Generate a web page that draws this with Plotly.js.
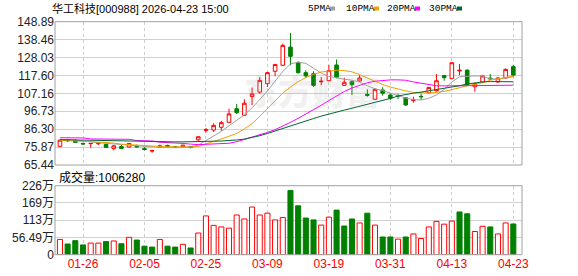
<!DOCTYPE html>
<html><head><meta charset="utf-8">
<script src="https://cdn.plot.ly/plotly-3.0.1.min.js"></script>
<style>html,body{margin:0;padding:0;background:#fff}#c{width:578px;height:276px}</style>
</head><body><div id="c"></div>
<script>
const dates = ['01-21','01-22','01-23','01-26','01-27','01-28','01-29','01-30','02-02','02-03','02-04','02-05','02-06','02-09','02-10','02-11','02-12','02-13','02-24','02-25','02-26','02-27','03-02','03-03','03-04','03-05','03-06','03-09','03-10','03-11','03-12','03-13','03-16','03-17','03-18','03-19','03-20','03-23','03-24','03-25','03-26','03-27','03-30','03-31','04-01','04-02','04-03','04-07','04-08','04-09','04-10','04-13','04-14','04-15','04-16','04-17','04-20','04-21','04-22','04-23'];
const open  = [76.3,80.2,79.8,78.0,77.9,77.8,77.4,75.0,76.2,75.9,76.5,75.0,73.6,75.8,76.8,76.2,75.8,76.2,80.1,85.6,85.8,87.4,90.3,98.2,94.4,105.3,107.9,112.8,120.0,123.5,134.1,125.0,119.2,118.6,113.9,114.5,123.7,111.8,113.9,114.4,106.5,103.7,109.1,106.2,105.9,104.6,103.0,105.4,107.5,108.7,117.6,115.7,120.2,120.7,111.0,113.8,116.0,113.8,116.1,122.7];
const high  = [80.3,80.6,80.4,78.3,78.3,78.5,77.8,77.0,77.4,78.3,77.3,75.8,74.3,77.3,77.3,76.6,77.2,76.5,82.0,87.0,89.7,91.1,98.2,101.0,103.7,110.5,116.7,119.6,124.4,136.1,142.3,125.8,120.6,120.0,116.7,123.6,126.9,116.3,114.9,117.8,109.5,110.1,110.7,107.2,107.0,104.8,105.2,107.0,111.0,118.4,117.8,125.2,124.2,121.0,113.4,117.6,118.4,116.7,121.7,123.7];
const low   = [76.1,78.8,78.5,77.4,75.5,77.1,75.3,74.1,74.9,75.6,75.5,73.9,72.6,75.5,75.8,75.3,75.6,75.2,79.6,84.3,84.6,85.4,90.0,95.1,94.0,100.4,106.9,110.9,117.1,123.1,123.5,118.6,116.1,110.9,111.8,114.3,115.9,111.6,106.2,113.9,105.2,103.5,105.8,103.3,103.9,99.8,101.7,103.3,107.2,108.1,114.5,115.5,117.8,111.4,108.1,113.4,115.0,113.3,115.7,116.9];
const close = [79.9,79.6,78.6,77.7,78.0,78.1,75.7,76.6,75.1,78.0,76.0,74.5,73.8,76.6,76.2,75.8,77.0,75.6,81.9,85.9,88.5,90.1,95.2,95.9,101.4,106.8,114.7,119.2,123.9,135.1,128.7,119.2,117.3,111.8,114.2,120.4,116.5,113.6,112.2,116.1,106.0,109.5,107.2,104.3,105.6,100.4,103.4,105.2,110.5,114.5,116.3,125.0,120.6,112.3,112.8,117.3,115.6,116.1,121.1,117.8];
const volume = [500000,350000,460000,320000,380000,380000,430000,450000,360000,570000,480000,280000,250000,500000,280000,250000,340000,220000,710000,1270000,960000,910000,870000,1300000,1170000,1560000,1300000,1360000,1140000,1220000,2100000,1600000,1200000,1140000,970000,1230000,1460000,940000,1170000,1040000,1360000,970000,580000,580000,510000,580000,680000,530000,910000,1090000,1000000,1100000,1400000,1340000,760000,930000,910000,680000,1040000,1006280];
const ma5  = [80.0,80.3,79.8,79.5,78.9,78.4,78.0,77.6,77.2,76.7,76.6,76.3,76.0,75.8,75.7,75.5,75.7,75.9,77.0,79.6,82.6,85.0,88.3,91.3,94.6,98.7,103.4,108.5,114.3,119.8,124.3,125.3,124.6,121.8,119.0,117.0,116.0,115.4,114.8,113.7,111.6,109.8,108.8,107.3,105.6,104.4,103.5,103.3,104.3,106.2,109.5,113.8,116.8,117.2,117.3,117.3,115.5,115.5,116.2,116.8];
const ma10 = [79.8,79.7,79.6,79.4,79.0,78.8,78.6,78.2,77.6,77.3,77.1,76.6,76.2,76.2,76.1,76.0,76.0,75.9,76.2,77.5,79.2,80.6,82.0,83.8,86.5,89.5,93.8,98.5,103.2,107.3,110.8,114.0,116.3,118.2,119.6,120.3,120.6,120.4,119.7,118.0,116.0,114.2,112.3,110.8,109.6,108.6,107.7,107.3,107.3,107.8,108.3,109.3,110.6,111.6,112.4,113.3,114.8,115.7,116.4,117.2];
const ma20 = [81.3,81.3,81.3,81.2,80.6,80.6,80.6,80.5,80.5,80.4,79.7,79.6,79.4,78.7,78.6,78.5,78.0,77.6,77.3,77.5,77.7,77.9,78.1,79.0,80.3,81.8,82.9,84.4,86.0,88.0,90.3,92.6,95.0,97.6,100.2,103.0,105.8,108.2,110.3,112.0,113.3,114.2,114.8,115.0,115.0,114.8,113.8,113.2,112.6,111.6,111.5,111.5,111.5,111.5,111.5,111.5,111.5,111.6,111.9,111.9];
const ma30 = [80.2,80.1,80.0,79.7,79.6,79.6,79.6,79.6,79.6,79.5,79.4,79.1,79.0,78.9,78.9,78.9,78.9,78.9,79.0,79.1,79.3,79.4,79.6,80.0,80.5,81.4,82.5,83.8,85.3,86.8,88.4,89.9,91.2,92.5,93.9,95.2,96.4,97.4,98.5,99.6,100.8,101.9,103.0,104.2,105.6,106.6,107.3,107.9,108.6,109.2,109.8,110.6,111.6,112.6,113.4,113.8,114.0,114.1,114.1,113.9];
const priceTicks = [65.44,75.87,86.30,96.73,107.16,117.60,128.03,138.46,148.89];
const priceTickText = ['65.44','75.87','86.30','96.73','107.16','117.60','128.03','138.46','148.89'];
const volTicks = [0,564900,1129800,1694700,2259600];
const volTickText = ['0','56.49万','113万','169万','226万'];
const xTickDates = ['01-26','02-05','02-25','03-09','03-19','03-31','04-13','04-23'];
const title = '华工科技[000988] 2026-04-23 15:00';
const volTitle = '成交量:1006280';
const maNames = ['5PMA','10PMA','20PMA','30PMA'];

const W=578,H=276;
const px=x=>x/W, py=y=>1-y/H;
const RED='#ff0000', GREEN='#008000';
const maColors=['#a0a0a0','#f0a000','#ff00ff','#006633'];

const up = close.map((c,i)=> i===0 ? c>=open[0] : c>=close[i-1]);

const traces=[
 {type:'candlestick',x:dates,open:open,high:high,low:low,close:close,xaxis:'x',yaxis:'y',
  increasing:{line:{color:RED,width:1},fillcolor:'#ffffff'},
  decreasing:{line:{color:GREEN,width:1},fillcolor:GREEN},
  whiskerwidth:0,hoverinfo:'skip',showlegend:false},
];
[ma5,ma10,ma20,ma30].forEach((m,i)=>traces.push({type:'scatter',mode:'lines',x:dates,y:m,xaxis:'x',yaxis:'y',
  line:{color:maColors[i],width:1},hoverinfo:'skip',showlegend:false}));
traces.push({type:'bar',x:dates,y:volume,xaxis:'x',yaxis:'y2',width:0.66,
  marker:{color:up.map(u=>u?'#ffffff':GREEN),line:{color:up.map(u=>u?RED:GREEN),width:1}},
  hoverinfo:'skip',showlegend:false});

const fam='Liberation Sans, Arial, Noto Sans CJK SC, sans-serif';
const annotations=[
 {text:title,xref:'paper',yref:'paper',x:px(50),y:py(8.5),xanchor:'left',yanchor:'middle',showarrow:false,
  font:{family:fam,size:11,color:'#000'}},
 {text:volTitle,xref:'paper',yref:'paper',x:px(57),y:py(177.5),xanchor:'left',yanchor:'middle',showarrow:false,
  font:{family:fam,size:12,color:'#000'}},
 {text:'东方财富',xref:'paper',yref:'paper',x:px(312),y:py(90),xanchor:'center',yanchor:'middle',showarrow:false,
  font:{family:'Noto Sans CJK SC',size:34,color:'rgba(160,160,160,0.17)',weight:900}},
];
const legX=[306,344,385,427], sqX=[330,374,415,457];
const shapes=[];
maNames.forEach((n,i)=>{
  annotations.push({text:n,xref:'paper',yref:'paper',x:px(legX[i]),y:py(8.5),xanchor:'left',yanchor:'middle',showarrow:false,
    font:{family:'Liberation Mono, DejaVu Sans Mono, monospace',size:9.5,color:'#000'}});
  shapes.push({type:'rect',xref:'paper',yref:'paper',x0:px(sqX[i]),x1:px(sqX[i]+5),y0:py(10.5),y1:py(6.5),
    line:{width:0},fillcolor:maColors[i]});
});
shapes.push({type:'rect',xref:'x domain',yref:'y domain',x0:0,x1:1,y0:0,y1:1,line:{color:'#a0a0a0',width:1}});
shapes.push({type:'rect',xref:'x domain',yref:'y2 domain',x0:0,x1:1,y0:0,y1:1,line:{color:'#a0a0a0',width:1}});

const layout={
 width:W,height:H,margin:{l:0,r:0,t:0,b:0},paper_bgcolor:'#fff',plot_bgcolor:'#fff',
 showlegend:false,boxgap:0.33,bargap:0,
 xaxis:{type:'category',domain:[px(55),px(522)],range:[-0.644,60.13],anchor:'y2',
   tickmode:'array',tickvals:xTickDates,ticktext:xTickDates,ticks:'',
   tickfont:{family:fam,size:12,color:RED},showgrid:true,gridcolor:'#cccccc',griddash:'3px,3px',gridwidth:1,
   rangeslider:{visible:false},showline:false,zeroline:false,fixedrange:true},
 yaxis:{domain:[py(165),py(21.67)],range:[65.44,148.89],anchor:'x',tickmode:'array',tickvals:priceTicks,ticktext:priceTickText,
   ticks:'',tickfont:{family:fam,size:12,color:'#222'},gridcolor:'#d0d0d0',gridwidth:1,zeroline:false,showline:false},
 yaxis2:{domain:[py(254.7),py(185.7)],range:[0,2259600],anchor:'x',tickmode:'array',tickvals:volTicks,ticktext:volTickText,
   ticks:'',tickfont:{family:fam,size:12,color:'#222'},gridcolor:'#d0d0d0',gridwidth:1,zeroline:false,showline:false},
 annotations:annotations,shapes:shapes
};
Plotly.newPlot('c',traces,layout,{staticPlot:true,displayModeBar:false});
</script></body></html>
